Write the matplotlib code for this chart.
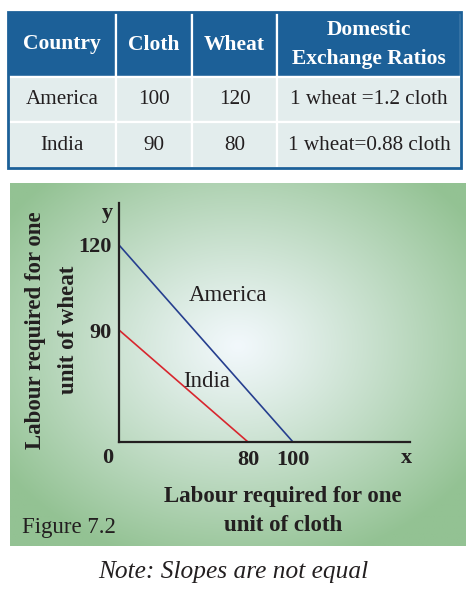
import numpy as np
import matplotlib
matplotlib.use("Agg")
import matplotlib.pyplot as plt
from matplotlib.colors import to_rgb

# Tabelle
kopfzeile = ["Country", "Cloth", "Wheat", "Domestic\nExchange Ratios"]
laender = ["America", "India"]
tuch = [100, 90]
weizen = [120, 80]
verhaeltnis = ["1 wheat =1.2 cloth", "1 wheat=0.88 cloth"]

# Diagramm (Achsenabschnitte)
linien_namen = ["America", "India"]
weizen_achse = [120, 90]
tuch_achse = [100, 80]
linien_farben = ["#263f8f", "#d8262e"]
x_ticks = [80, 100]
y_ticks = [90, 120]

serif = "Liberation Serif"
W, H = 473, 589
fig = plt.figure(figsize=(W / 100, H / 100), dpi=100)


def box(x0, y0, x1, y1):
    # Pixelbox -> figure fraction
    return [x0 / W, 1 - y1 / H, (x1 - x0) / W, (y1 - y0) / H]


# --- Tabelle ---
ax_t = fig.add_axes(box(8, 12, 461, 168))
ax_t.set_axis_off()
zellen = [[laender[i], str(tuch[i]), str(weizen[i]), verhaeltnis[i]] for i in range(2)]
tab = ax_t.table(cellText=zellen, colLabels=kopfzeile, bbox=[0, 0, 1, 1],
                 cellLoc="center")
tab.auto_set_font_size(False)
breiten = [108, 76, 85, 184]
hoehen = [65, 45, 46]
for (r, c), zelle in tab.get_celld().items():
    zelle.set_width(breiten[c])
    zelle.set_height(hoehen[r])
    zelle.set_edgecolor("white")
    zelle.set_linewidth(1.6)
    txt = zelle.get_text()
    txt.set_fontfamily(serif)
    if r == 0:
        zelle.set_facecolor("#1c6098")
        txt.set_color("white")
        txt.set_fontweight("bold")
        txt.set_fontsize(15.5)
        txt.set_linespacing(1.6)
    else:
        zelle.set_facecolor("#e3eded")
        txt.set_color("#231f20")
        txt.set_fontsize(15.2)
ax_t.add_patch(plt.Rectangle((0, 0), 1, 1, transform=ax_t.transAxes, fill=False,
                             edgecolor="#1c6098", linewidth=2.0, clip_on=False,
                             zorder=10))

# --- gruener Hintergrund mit radialem Verlauf ---
ax_bg = fig.add_axes(box(10, 183, 465, 546))
ax_bg.set_axis_off()
gx, gy = np.meshgrid(np.linspace(0, 1, 300), np.linspace(0, 1, 300))
d = np.sqrt(((gx - 0.5) / 0.62) ** 2 + ((gy - 0.45) / 0.62) ** 2)
d = np.clip(d, 0, 1) ** 1.1
innen = np.array(to_rgb("#f2f8fc"))
aussen = np.array(to_rgb("#93c293"))
bild = innen[None, None, :] * (1 - d[..., None]) + aussen[None, None, :] * d[..., None]
ax_bg.imshow(bild, extent=[0, 1, 0, 1], aspect="auto", origin="upper")
ax_bg.set_xlim(0, 1)
ax_bg.set_ylim(0, 1)

# --- Diagramm ---
ax = fig.add_axes(box(119, 203, 410, 442))
ax.patch.set_visible(False)

# schematische Achsen (nicht massstabsgetreu wie im Original)
x_dat, x_pos = [0, 80, 100, 150], [0, 129, 174, 291]
y_dat, y_pos = [0, 90, 120, 135], [0, 112, 197, 239]
ax.set_xscale("function", functions=(lambda v: np.interp(v, x_dat, x_pos),
                                     lambda v: np.interp(v, x_pos, x_dat)))
ax.set_yscale("function", functions=(lambda v: np.interp(v, y_dat, y_pos),
                                     lambda v: np.interp(v, y_pos, y_dat)))
ax.set_xlim(0, 150)
ax.set_ylim(0, 135)

for name, wy, tx, farbe in zip(linien_namen, weizen_achse, tuch_achse, linien_farben):
    ax.plot([0, tx], [wy, 0], color=farbe, linewidth=1.2, solid_capstyle="butt")

for s in ["top", "right"]:
    ax.spines[s].set_visible(False)
for s in ["left", "bottom"]:
    ax.spines[s].set_linewidth(1.6)
    ax.spines[s].set_color("#231f20")

ax.set_xticks(x_ticks)
ax.set_xticklabels([str(t) for t in x_ticks])
ax.set_yticks(y_ticks)
ax.set_yticklabels([str(t) for t in y_ticks])
ax.minorticks_off()
ax.tick_params(axis="x", length=0, pad=6)
ax.tick_params(axis="y", length=0, pad=5)
for lbl in ax.get_xticklabels() + ax.get_yticklabels():
    lbl.set_fontfamily(serif)
    lbl.set_fontweight("bold")
    lbl.set_fontsize(16)
    lbl.set_color("#231f20")

fett = dict(fontfamily=serif, fontweight="bold", fontsize=16, color="#231f20")
ax.text(-0.04, -0.065, "0", transform=ax.transAxes, ha="center", va="center", **fett)
ax.text(-0.04, 0.96, "y", transform=ax.transAxes, ha="center", va="center", **fett)
ax.text(0.987, -0.065, "x", transform=ax.transAxes, ha="center", va="center", **fett)

normal = dict(fontfamily=serif, fontsize=16.5, color="#231f20")
ax.text(0.375, 0.611, linien_namen[0], transform=ax.transAxes, ha="center",
        va="center", **normal)
ax.text(0.30, 0.255, linien_namen[1], transform=ax.transAxes, ha="center",
        va="center", **normal)

achsen = dict(fontfamily=serif, fontweight="bold", fontsize=16.5, color="#231f20")
fig.text(283 / W, 1 - 511 / H, "Labour required for one\nunit of cloth", ha="center",
         va="center", linespacing=1.55, **achsen)
fig.text(52 / W, 1 - 330 / H, "Labour required for one\nunit of wheat", ha="center",
         va="center", rotation=90, linespacing=1.75, **achsen)
fig.text(22 / W, 1 - 527 / H, "Figure 7.2", ha="left", va="center",
         fontfamily=serif, fontsize=16.5, color="#231f20")
fig.text(233 / W, 1 - 572 / H, "Note: Slopes are not equal", ha="center",
         va="center", fontfamily=serif, fontstyle="italic", fontsize=18.3,
         color="#231f20")

fig.savefig("out.png", dpi=100)
